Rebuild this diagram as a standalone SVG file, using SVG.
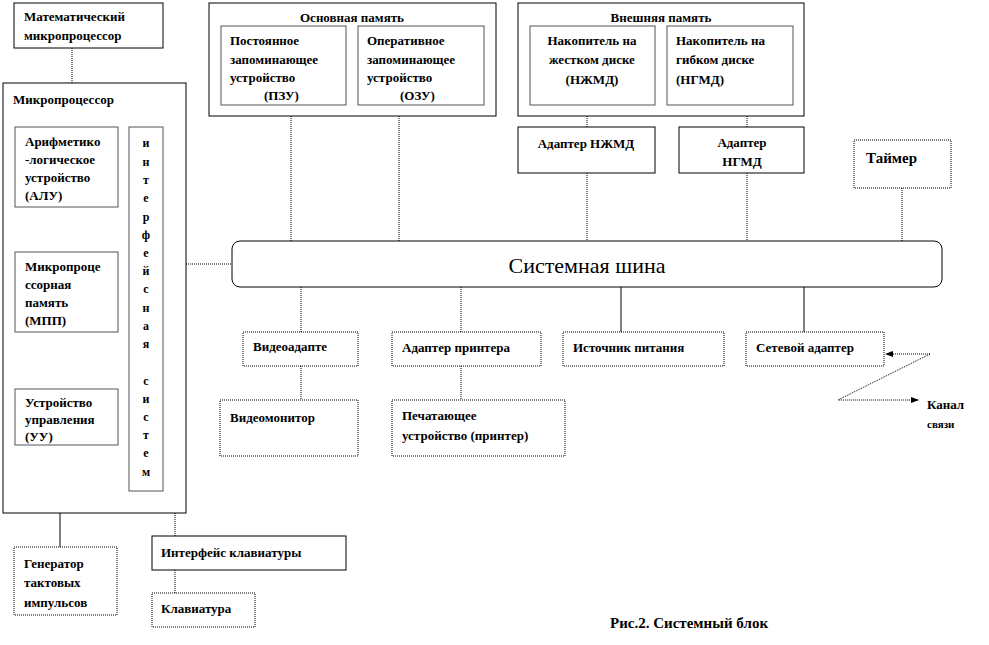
<svg xmlns="http://www.w3.org/2000/svg" width="989" height="645" viewBox="0 0 989 645" font-family="'Liberation Serif', 'Times New Roman', 'DejaVu Serif', serif">
<defs>
<style>
rect{fill:#fff;stroke:#000;stroke-width:1}
.g{stroke:#555}
.d{stroke-dasharray:1 1}
text{font-family:'Liberation Serif','Times New Roman','DejaVu Serif',serif;font-size:13px;font-weight:bold;fill:#000}
.big{font-size:22px;font-weight:normal}
.t15{font-size:15px}
.t12{font-size:12px}
.t11{font-size:11px}
.c line,.c polyline{stroke:#000;stroke-width:1;fill:none}
</style>
<marker id="ar" markerWidth="8" markerHeight="6" refX="7" refY="3" orient="auto"><path d="M0,0 L8,3 L0,6z" fill="#000"/></marker>
</defs>
<rect width="989" height="645" style="stroke:none"/>
<g class="c">
<line class="d" x1="72" y1="48" x2="72" y2="83"/>
<line class="d" x1="186" y1="264" x2="232" y2="264"/>
<line class="d" x1="291" y1="116" x2="291" y2="241"/>
<line class="d" x1="399" y1="116" x2="399" y2="241"/>
<line class="d" x1="587" y1="116" x2="587" y2="127"/>
<line class="d" x1="587" y1="173" x2="587" y2="241"/>
<line class="d" x1="747" y1="116" x2="747" y2="127"/>
<line class="d" x1="747" y1="173" x2="747" y2="241"/>
<line class="d" x1="902" y1="188" x2="902" y2="241"/>
<line class="d" x1="301" y1="287" x2="301" y2="332"/>
<line class="d" x1="461" y1="287" x2="461" y2="332"/>
<line x1="621" y1="287" x2="621" y2="332"/>
<line x1="804" y1="287" x2="804" y2="332"/>
<line class="d" x1="301" y1="366" x2="301" y2="400"/>
<line class="d" x1="461" y1="366" x2="461" y2="400"/>
<line x1="60" y1="513" x2="60" y2="547"/>
<line class="d" x1="175" y1="513" x2="175" y2="536"/>
<line class="d" x1="175" y1="570" x2="175" y2="593"/>
<line class="d" x1="930" y1="354" x2="886" y2="354" marker-end="url(#ar)"/>
<polyline class="d" points="930,354 838,400 918,400" marker-end="url(#ar)"/>
</g>
<g id="math"><rect x="14" y="3" width="149" height="45"/><text x="24" y="21">Математический</text><text x="24" y="40">микропроцессор</text></g>
<g id="mp"><rect x="3" y="83" width="183" height="430"/><text x="13" y="104">Микропроцессор</text></g>
<g id="alu"><rect class="g" x="15" y="127" width="103" height="80"/><text x="25" y="146">Арифметико</text><text x="25" y="164">-логическое</text><text x="25" y="182">устройство</text><text x="25" y="200">(АЛУ)</text></g>
<g id="mpp"><rect class="g" x="15" y="252" width="103" height="80"/><text x="25" y="271">Микропроце</text><text x="25" y="289">ссорная</text><text x="25" y="307">память</text><text x="25" y="325">(МПП)</text></g>
<g id="uu"><rect class="g" x="15" y="389" width="103" height="56"/><text x="25" y="407">Устройство</text><text x="25" y="424">управления</text><text x="25" y="441">(УУ)</text></g>
<g id="intf"><rect class="g" x="129" y="127" width="34" height="364"/>
<text class="t12" text-anchor="middle"><tspan x="146" y="147">и</tspan><tspan x="146" y="166">н</tspan><tspan x="146" y="184">т</tspan><tspan x="146" y="202">е</tspan><tspan x="146" y="221">р</tspan><tspan x="146" y="239">ф</tspan><tspan x="146" y="257">е</tspan><tspan x="146" y="275">й</tspan><tspan x="146" y="293">с</tspan><tspan x="146" y="312">н</tspan><tspan x="146" y="330">а</tspan><tspan x="146" y="348">я</tspan><tspan x="146" y="385">с</tspan><tspan x="146" y="403">и</tspan><tspan x="146" y="421">с</tspan><tspan x="146" y="439">т</tspan><tspan x="146" y="457">е</tspan><tspan x="146" y="476">м</tspan></text></g>
<g id="mainmem"><rect x="209" y="3" width="287" height="113"/><text x="352" y="22" text-anchor="middle">Основная память</text></g>
<g id="rom"><rect class="g" x="221" y="26" width="125" height="79"/><text x="230" y="45">Постоянное</text><text x="230" y="64">запоминающее</text><text x="230" y="82">устройство</text><text x="264" y="100">(ПЗУ)</text></g>
<g id="ram"><rect class="g" x="358" y="26" width="126" height="79"/><text x="367" y="45">Оперативное</text><text x="367" y="64">запоминающее</text><text x="367" y="82">устройство</text><text x="400" y="100">(ОЗУ)</text></g>
<g id="extmem"><rect x="518" y="3" width="286" height="113"/><text x="661" y="22" text-anchor="middle">Внешняя память</text></g>
<g id="hdd"><rect class="g" x="530" y="26" width="125" height="79"/><text x="592" y="45" text-anchor="middle">Накопитель на</text><text x="592" y="64" text-anchor="middle">жестком диске</text><text x="592" y="84" text-anchor="middle">(НЖМД)</text></g>
<g id="fdd"><rect class="g" x="667" y="26" width="126" height="79"/><text x="676" y="45">Накопитель  на</text><text x="676" y="64">гибком     диске</text><text x="676" y="84">(НГМД)</text></g>
<g id="ahdd"><rect x="518" y="127" width="137" height="46"/><text x="586" y="148" text-anchor="middle">Адаптер НЖМД</text></g>
<g id="afdd"><rect x="679" y="127" width="125" height="46"/><text x="742" y="147" text-anchor="middle">Адаптер</text><text x="742" y="166" text-anchor="middle">НГМД</text></g>
<g id="timer"><rect class="d" x="854" y="140" width="97" height="48"/><text class="t15" x="866" y="163">Таймер</text></g>
<g id="bus"><rect x="232" y="241" width="710" height="46" rx="8"/><text class="big" x="587" y="273" text-anchor="middle">Системная шина</text></g>
<g id="video"><rect class="d" x="243" y="332" width="115" height="34"/><text x="253" y="351">Видеоадапте</text></g>
<g id="monitor"><rect class="d" x="220" y="400" width="138" height="56"/><text x="230" y="422">Видеомонитор</text></g>
<g id="aprn"><rect class="d" x="392" y="332" width="149" height="34"/><text x="402" y="352">Адаптер принтера</text></g>
<g id="prn"><rect class="d" x="392" y="400" width="173" height="56"/><text x="402" y="420">Печатающее</text><text x="402" y="440">устройство (принтер)</text></g>
<g id="power"><rect class="d" x="563" y="332" width="161" height="34"/><text x="573" y="352">Источник питания</text></g>
<g id="net"><rect class="d" x="746" y="332" width="138" height="34"/><text x="756" y="352">Сетевой адаптер</text></g>
<g id="chan"><text x="927" y="409">Канал</text><text class="t11" x="927" y="428">связи</text></g>
<g id="gen"><rect class="d" x="14" y="547" width="103" height="68"/><text x="24" y="568">Генератор</text><text x="24" y="587">тактовых</text><text x="24" y="607">импульсов</text></g>
<g id="kbi"><rect x="152" y="536" width="194" height="34"/><text x="161" y="557">Интерфейс клавиатуры</text></g>
<g id="kb"><rect class="d" x="152" y="593" width="103" height="34"/><text x="161" y="613">Клавиатура</text></g>
<text class="t15" x="610" y="628">Рис.2. Системный блок</text>
</svg>
